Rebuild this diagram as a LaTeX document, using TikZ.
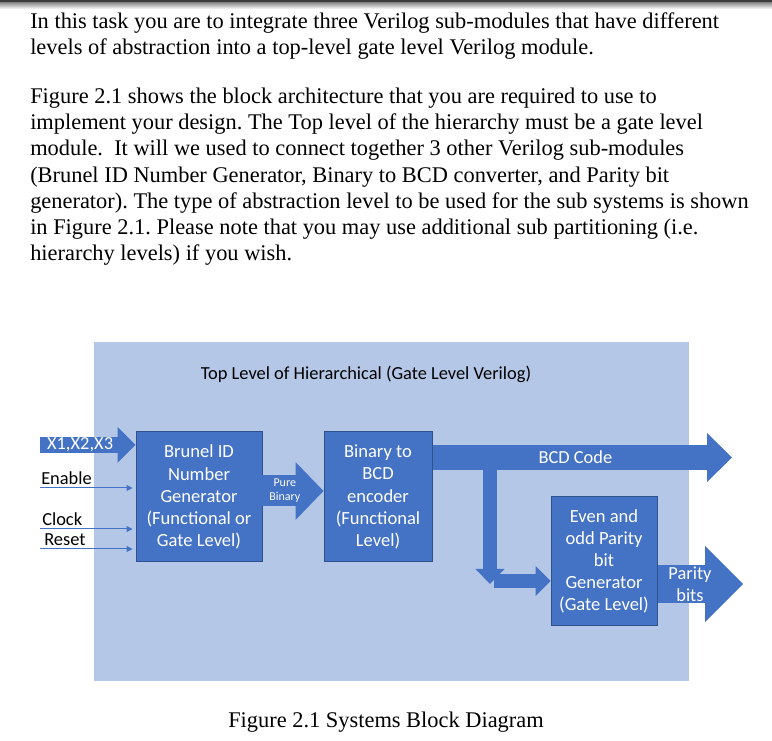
\documentclass[tikz,border=0pt]{standalone}
\usepackage{fontspec}
\setmainfont{Liberation Serif}
\newfontfamily\calibri{Carlito}
\usetikzlibrary{arrows.meta}
\definecolor{topBlue}{HTML}{B4C7E7}
\definecolor{blockBlue}{HTML}{4472C4}
\definecolor{edgeBlue}{HTML}{2F528F}
\definecolor{barGray}{HTML}{3C3C3C}
\frenchspacing
\begin{document}
\begin{tikzpicture}
[x=0.75pt,y=-0.75pt,
  bodyDecorate/.style={anchor=base west,inner sep=0pt,font=\fontsize{16.8}{19.6}\selectfont},
  blockDecorate/.style={shape=rectangle,draw=edgeBlue,fill=blockBlue,line width=0.75pt,
    text=white,align=center,inner sep=0pt,font=\calibri\fontsize{13.9}{16.6}\selectfont},
  labelDecorate/.style={inner sep=0pt,font=\calibri\fontsize{13.8}{16.5}\selectfont},
  fatArrow/.style n args={3}{draw=blockBlue,line width=#1,
    -{Triangle[length=#2,width=#3,line width=0pt]}},
  thinArrow/.style={draw=blockBlue,line width=0.75pt,shorten >=2.25pt,
    -{Triangle[length=4.5pt,width=4.5pt]}}]
\useasboundingbox (0,0) rectangle (772,741);
%% top bar of the page
\fill[barGray] (0,0) rectangle (772,3);
\shade[top color=barGray!55,bottom color=white] (0,3) rectangle (772,9);
%% task text
\foreach \ypos/\txt in {
  29/{In this task you are to integrate three Verilog sub-modules that have different},
  55/{levels of abstraction into a top-level gate level Verilog module.},
  104/{Figure 2.1 shows the block architecture that you are required to use to},
  130/{implement your design. The Top level of the hierarchy must be a gate level},
  156/{module.\ \ It will we used to connect together 3 other Verilog sub-modules},
  183/{(Brunel ID Number Generator, Binary to BCD converter, and Parity bit},
  209/{generator). The type of abstraction level to be used for the sub systems is shown},
  235/{in Figure 2.1. Please note that you may use additional sub partitioning (i.e.},
  261/{hierarchy levels) if you wish.}}
{
  \node (bodyLine\ypos) at (30,\ypos) [bodyDecorate] {\txt};
}
%% top level box
\fill[topBlue] (94,342) rectangle (689,681);
\node (topTitle) at (366,374) [labelDecorate] {Top Level of Hierarchical (Gate Level Verilog)};
%% sub-modules
\node (brunel) at (199,497) [blockDecorate,minimum width=126*0.75pt,minimum height=130*0.75pt]
  {Brunel ID\\Number\\Generator\\(Functional or\\Gate Level)};
\node (encoder) at (378,497) [blockDecorate,minimum width=108*0.75pt,minimum height=130*0.75pt]
  {Binary to\\BCD\\encoder\\(Functional\\Level)};
\node (parity) at (604,561.5) [blockDecorate,minimum width=106*0.75pt,minimum height=129*0.75pt]
  {Even and\\odd Parity\\bit\\Generator\\(Gate Level)};
%% free ends of the connectors
\coordinate (inBus) at (40,445);
\coordinate (pureBus) at (262,491);
\coordinate (bcdEnd) at (732,457.5);
\coordinate (tapTop) at (490,470);
\coordinate (tapEnd) at (490,584);
\coordinate (turnStart) at (494,581);
\coordinate (parityEnd) at (743,584);
%% single control inputs
\foreach \signame/\xlab/\ypos in {Enable/41/488, Clock/42/529, Reset/44/549}
{
  \coordinate (\signame) at (40,\ypos);
  \node (\signame Label) at (\xlab,\ypos-3) [labelDecorate,anchor=base west] {\signame};
  \draw[thinArrow] (\signame) -- (brunel.west |- \signame);
}
%% bus arrows
\draw[fatArrow={12pt}{13.5pt}{27pt}] (inBus) -- (brunel.west |- inBus)
  node[pos=0.42,labelDecorate,text=white] {X1,X2,X3};
\draw[fatArrow={23.25pt}{21pt}{43.5pt}] (pureBus) -- (encoder.west |- pureBus)
  node[pos=0.37,inner sep=0pt,text=white,align=center,
    font=\calibri\fontsize{9}{10.5}\selectfont] {Pure\\Binary};
\draw[fatArrow={18.75pt}{18.75pt}{36.75pt}] (encoder.east |- bcdEnd) -- (bcdEnd)
  node[pos=0.477,labelDecorate,text=white] {BCD Code};
\draw[fatArrow={10.5pt}{11.25pt}{21.75pt}] (tapTop) -- (tapEnd);
\draw[fatArrow={10.5pt}{11.25pt}{22.5pt}] (turnStart) -- (parity.west |- turnStart);
\draw[fatArrow={28.5pt}{28.5pt}{57pt}] (parity.east |- parityEnd) -- (parityEnd)
  node[pos=0.38,labelDecorate,text=white,align=center] {Parity\\bits};
%% caption
\node (caption) at (386,727) [bodyDecorate,anchor=base] {Figure 2.1 Systems Block Diagram};
\end{tikzpicture}
\end{document}
